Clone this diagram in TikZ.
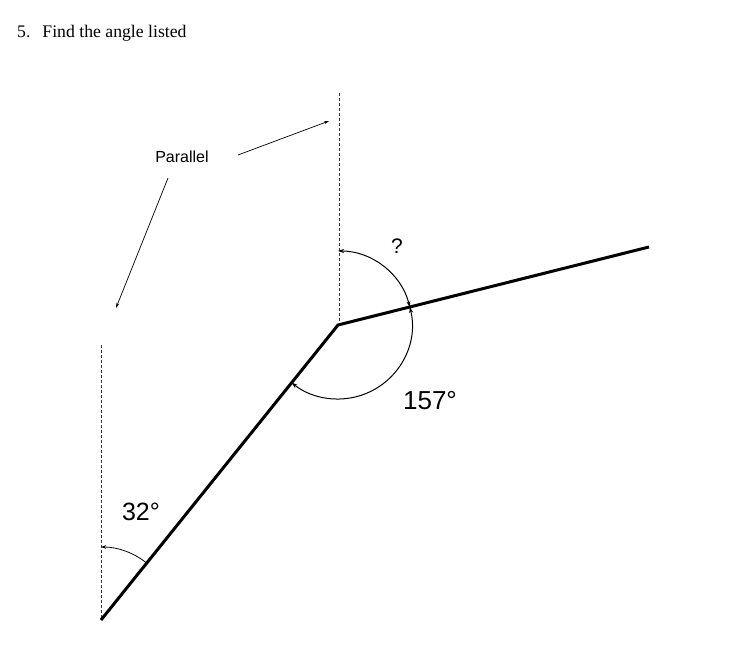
\documentclass[tikz,border=0pt]{standalone}
\usepackage{fontspec}
\setmainfont{Liberation Serif}
\newfontfamily\arial{Liberation Sans}
\usetikzlibrary{arrows.meta,calc}
\begin{document}
\begin{tikzpicture}[x=1pt,y=1pt,
  thickline/.style={line width=3pt},
  guide/.style={line width=0.7pt,dash pattern=on 3pt off 2pt,black!80},
  pointer/.style={line width=0.7pt,-{Stealth[length=5pt,width=3pt]}},
  lbl/.style={inner sep=0pt,font=\arial}]
\useasboundingbox (0,0) rectangle (738,666);
\coordinate (A) at (101,46);
\coordinate (B) at (338,341);
\coordinate (C) at (649,419);
\coordinate (DL) at (101,321);
\coordinate (DR) at (339,573);
\coordinate (BR) at (339,341);
\coordinate (P1s) at (238,511);
\coordinate (P1e) at (329,545);
\coordinate (P2s) at (168,488);
\coordinate (P2e) at (116,358);
\node[anchor=west,inner sep=0pt,font=\fontsize{17.7}{21}\selectfont] (title) at (17,633) {5.\hspace{12pt}Find the angle listed};
\draw[guide] (DR) -- (BR);
\draw[guide] (DL) -- (A);
\draw[thickline,line join=miter] (A) -- (B) -- (C);
\draw[pointer] (P1s) -- (P1e);
\draw[pointer] (P2s) -- (P2e);
\draw[line width=1pt,{Stealth[length=6pt,width=4pt]}-{Stealth[length=6pt,width=4pt]}] ([shift={(90:74)}]B) arc[start angle=90,end angle=14,radius=74];
\draw[line width=1pt,{Stealth[length=6pt,width=4pt]}-{Stealth[length=6pt,width=4pt]}] ([shift={(14:74)}]B) arc[start angle=14,end angle=-128.8,radius=74];
\draw[line width=0.8pt,{Stealth[length=5pt,width=3.5pt]}-] ([shift={(90:73)}]A) arc[start angle=90,end angle=51.2,radius=73];
\node[lbl,font=\arial\fontsize{16}{18}\selectfont] (par) at (182,509) {Parallel};
\node[lbl,font=\arial\fontsize{21}{23}\selectfont] (q) at (397,420) {?};
\node[lbl,font=\arial\fontsize{26}{28}\selectfont] (a157) at (430,265) {157°};
\node[lbl,font=\arial\fontsize{25}{27}\selectfont] (a32) at (141,154) {32°};
\end{tikzpicture}
\end{document}
